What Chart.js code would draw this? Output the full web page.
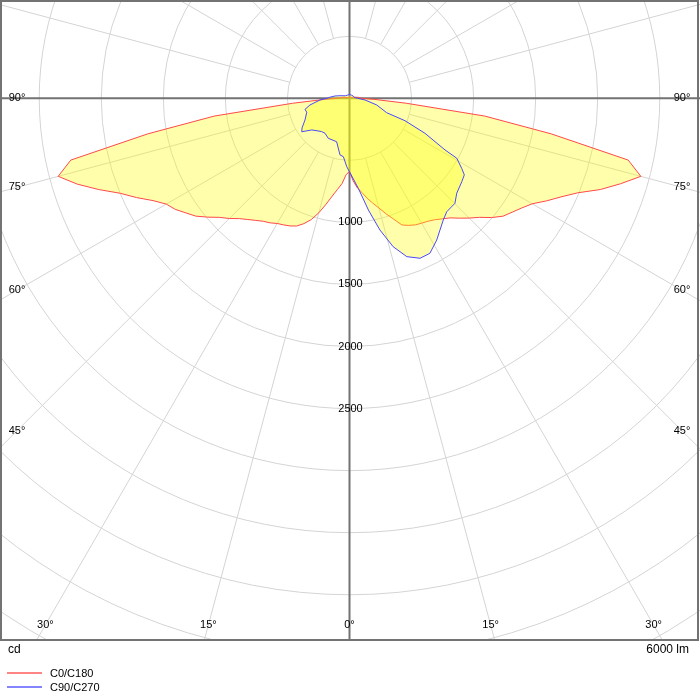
<!DOCTYPE html>
<html>
<head>
<meta charset="utf-8">
<script src="https://cdn.jsdelivr.net/npm/chart.js@4/dist/chart.umd.min.js"></script>
<style>
  body { margin: 0; background: #fff; }
  #wrap { position: relative; width: 700px; height: 700px; }
  .txt { position: absolute; font-family: "Liberation Sans", Arial, sans-serif; color: #000; line-height: 14px; white-space: nowrap; }
  .key { position: absolute; left: 7px; width: 35px; height: 2px; }
</style>
</head>
<body>
<div id="wrap">
  <canvas id="chart" width="700" height="700"></canvas>
  <div class="txt" style="left:8px; top:642px; font-size:12px;">cd</div>
  <div class="txt" style="right:11px; top:642px; font-size:12px;">6000 lm</div>
  <div class="key" style="top:672px; background:#ff8484;"></div>
  <div class="txt" style="left:50px; top:666px; font-size:11px;">C0/C180</div>
  <div class="key" style="top:686px; background:#8484ff;"></div>
  <div class="txt" style="left:50px; top:680px; font-size:11px;">C90/C270</div>
</div>
<script>
// --- Data: luminous intensity (cd) by gamma angle (deg, 0 = straight down) ---
const c0Angles = [-180, -135, -110, -100, -95,
  -90, -87.5, -85, -82.5, -80, -77.5, -75, -72.5, -70, -67.5, -65, -62.5, -60, -57.5, -55, -52.5,
  -50, -47.5, -45, -42.5, -40, -37.5, -35, -32.5, -30, -27.5, -25, -22.5, -20, -17.5, -15, -12.5,
  -10, -7.5, -5, -2.5, 0, 2.5, 5, 7.5, 10, 12.5, 15, 17.5, 20, 22.5, 25, 27.5, 30, 32.5, 35, 37.5,
  40, 42.5, 45, 47.5, 50, 52.5, 55, 57.5, 60, 62.5, 65, 67.5, 70, 72.5, 75, 77.5, 80, 82.5, 85, 87.5,
  90, 95, 100, 110, 135, 180];
const c0Values = [10, 10, 20, 45, 70,
  95, 200, 460, 1100, 1650, 2300, 2430, 2300, 2150, 2000, 1893, 1785, 1705, 1665, 1610, 1560,
  1490, 1420, 1370, 1315, 1275, 1240, 1210, 1190, 1165, 1150, 1135, 1114, 1075, 1025, 955, 875,
  800, 740, 690, 615, 590, 665, 725, 765, 818, 865, 915, 975, 1035, 1105, 1130, 1150, 1162, 1175, 1195, 1225,
  1258, 1310, 1365, 1420, 1495, 1560, 1600, 1645, 1700, 1790, 1880, 1990, 2150, 2290, 2430, 2300, 1650, 1100, 460, 200,
  95, 80, 50, 25, 10, 10];

const c90Angles = [-180, -150, -120, -105, -99, -93, -90, -86.7, -80.4, -76, -72, -64, -58, -55, -50,
  -45, -40, -35, -28, -16.5, -9.5, -6, -2.3, 0, 5.6, 9.6, 13, 16.4, 19.9, 23.8, 27.4, 31.6, 37.6,
  40.6, 45.1, 48.5, 53.4, 56.3, 58, 60.8, 61.6, 65.1, 68, 68.8, 76.2, 83.7, 90, 100, 120, 150, 180];
const c90Values = [30, 30, 40, 80, 118, 160, 180, 238, 323, 370, 362, 399, 451, 470, 397,
  370, 350, 344, 365, 365, 463, 473, 552, 592, 729, 913, 1089, 1247, 1357, 1409, 1407, 1341, 1238,
  1204, 1199, 1154, 1127, 1112, 1066, 990, 875, 671, 482, 321, 226, 126, 65, 40, 35, 30, 30];

// --- Grid / tick labels ---
const ringValues = [500, 1000, 1500, 2000, 2500, 3000, 3500, 4000, 4500, 5000, 5500];
const ringLabels = [1000, 1500, 2000, 2500];
const angleLabels = [90, 75, 60, 45, 30, 15, 0];

function toPoints(angles, values) {
    return angles.map((a, i) => {
        const t = a * Math.PI / 180;
        return { x: values[i] * Math.sin(t), y: values[i] * Math.cos(t) };
    });
}

const FONT = '"Liberation Sans", Arial, sans-serif';

// polar grid drawn underneath the curves
const polarGrid = {
    id: 'polarGrid',
    beforeDatasetsDraw(chart) {
        const { ctx, chartArea: a, scales: { x, y } } = chart;
        const cx = x.getPixelForValue(0);
        const cy = y.getPixelForValue(0);
        const k = x.getPixelForValue(1) - cx;
        ctx.save();
        ctx.beginPath();
        ctx.rect(a.left, a.top, a.right - a.left, a.bottom - a.top);
        ctx.clip();

        ctx.strokeStyle = '#d4d4d4';
        ctx.lineWidth = 1;
        ringValues.forEach(v => {
            ctx.beginPath();
            ctx.arc(cx, cy, v * k, 0, Math.PI * 2);
            ctx.stroke();
        });
        for (let deg = 0; deg < 360; deg += 15) {
            if (deg % 90 === 0) continue;
            const t = deg * Math.PI / 180;
            const r0 = ringValues[0] * k, r1 = 1000;
            ctx.beginPath();
            ctx.moveTo(cx + r0 * Math.sin(t), cy + r0 * Math.cos(t));
            ctx.lineTo(cx + r1 * Math.sin(t), cy + r1 * Math.cos(t));
            ctx.stroke();
        }

        // main axes
        ctx.strokeStyle = '#737373';
        ctx.lineWidth = 2;
        ctx.beginPath();
        ctx.moveTo(a.left, cy); ctx.lineTo(a.right, cy);
        ctx.moveTo(cx, a.top); ctx.lineTo(cx, a.bottom);
        ctx.stroke();
        ctx.restore();
    },
    afterDatasetsDraw(chart) {
        const { ctx, chartArea: a, scales: { x, y } } = chart;
        const cx = x.getPixelForValue(0);
        const cy = y.getPixelForValue(0);
        const k = x.getPixelForValue(1) - cx;
        ctx.save();
        ctx.fillStyle = '#000';
        ctx.font = '11px ' + FONT;
        ctx.textAlign = 'center';
        ctx.textBaseline = 'middle';

        ringLabels.forEach(v => ctx.fillText(String(v), cx + 1, cy + v * k));

        // angle labels sit where each spoke crosses an inset box
        const xl = a.left + 17, xr = a.right - 18, yb = a.bottom - 15;
        angleLabels.forEach(deg => {
            [1, -1].forEach(side => {
                if (deg === 0 && side < 0) return;
                const t = side * deg * Math.PI / 180;
                const sx = Math.sin(t), cy2 = Math.cos(t);
                let d = Infinity;
                if (sx > 1e-6) d = Math.min(d, (xr - cx) / sx);
                if (sx < -1e-6) d = Math.min(d, (xl - cx) / sx);
                if (cy2 > 1e-6) d = Math.min(d, (yb - cy) / cy2);
                ctx.fillText(deg + '°', cx + d * sx, cy + d * cy2);
            });
        });

        // frame
        ctx.strokeStyle = '#737373';
        ctx.lineWidth = 2;
        ctx.strokeRect(a.left + 1, a.top + 1, a.right - a.left - 3, a.bottom - a.top - 1);
        ctx.restore();
    }
};

const ctx = document.getElementById('chart').getContext('2d');
new Chart(ctx, {
    type: 'scatter',
    data: {
        datasets: [
            {
                label: 'C0/C180',
                data: toPoints(c0Angles, c0Values),
                showLine: true,
                borderColor: '#ff4848',
                borderWidth: 1,
                backgroundColor: 'rgba(255, 255, 0, 0.33)',
                fill: 'shape',
                pointRadius: 0,
                tension: 0,
                order: 2
            },
            {
                label: 'C90/C270',
                data: toPoints(c90Angles, c90Values),
                showLine: true,
                borderColor: '#4848ff',
                borderWidth: 1,
                backgroundColor: 'rgba(255, 255, 0, 0.33)',
                fill: 'shape',
                pointRadius: 0,
                tension: 0,
                order: 1
            }
        ]
    },
    options: {
        responsive: false,
        animation: false,
        layout: { padding: { left: 0, right: 0, top: 0, bottom: 60 } },
        plugins: {
            legend: { display: false },
            tooltip: { enabled: false }
        },
        scales: {
            x: { type: 'linear', min: -2816, max: 2824, display: false },
            y: { type: 'linear', min: -792, max: 4365, reverse: true, display: false }
        }
    },
    plugins: [polarGrid]
});
</script>
</body>
</html>
